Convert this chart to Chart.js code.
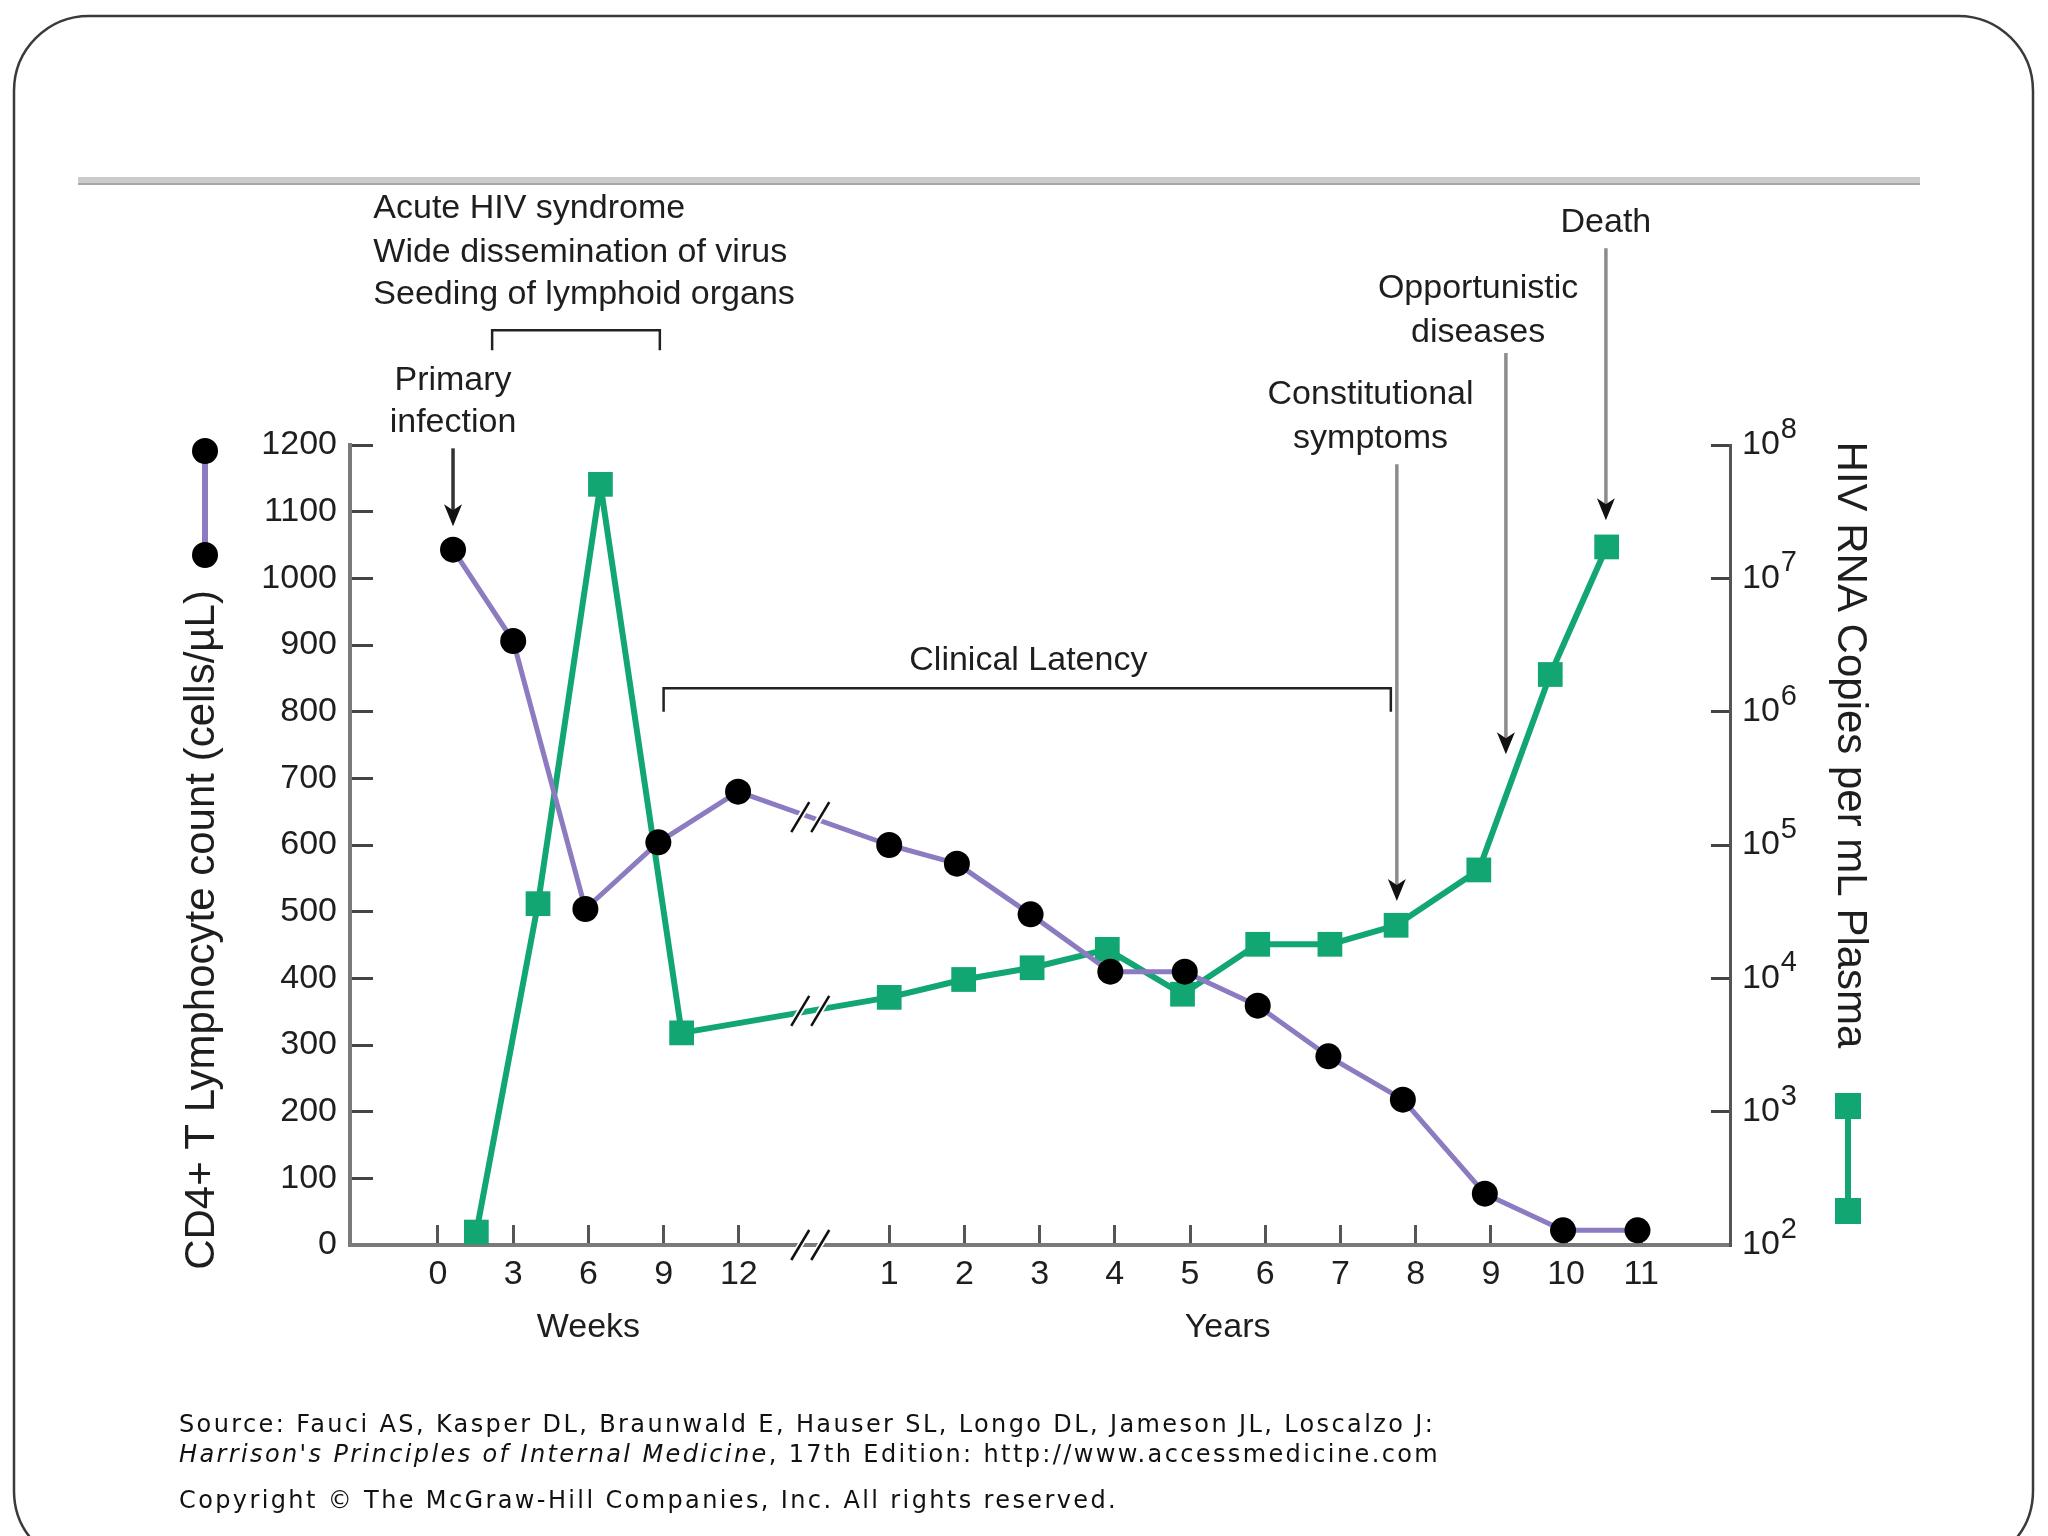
<!DOCTYPE html>
<html>
<head>
<meta charset="utf-8">
<title>Typical course of HIV infection</title>
<script src="https://cdn.jsdelivr.net/npm/chart.js@4.4.1/dist/chart.umd.min.js"></script>
<style>
  html, body { margin: 0; padding: 0; background: #fff; }
</style>
</head>
<body>
<canvas id="chart" width="2048" height="1536"></canvas>
<script>
// x axis works in "slots": weeks 0..12 sit on slots 0-4, the break is at slot 5,
// years 1..11 sit on slots 6-16
const weekTicks = [0, 3, 6, 9, 12];
const yearTicks = [1, 2, 3, 4, 5, 6, 7, 8, 9, 10, 11];
const breakSlot = 4.95;

// CD4+ T lymphocyte count (cells/uL)
const cd4Slots  = [0.2, 1.0, 1.96, 2.93, 3.99, 6.0, 6.9, 7.88, 8.94, 9.93, 10.9, 11.84, 12.83, 13.92, 14.96, 15.95];
const cd4Counts = [1043, 906, 504, 604, 680, 600, 572, 496, 410, 410, 359, 283, 218, 77, 22, 22];

// HIV RNA copies per mL plasma
const rnaSlots  = [0.51, 1.33, 2.16, 3.24, 6.0, 6.99, 7.9, 8.9, 9.9, 10.9, 11.86, 12.74, 13.84, 14.79, 15.54];
const rnaCopies = [125, 36300, 50700000, 3900, 7200, 9800, 12000, 16500, 7600, 18000, 18000, 25000, 65000, 1900000, 17200000];

const cd4Ticks = [0, 100, 200, 300, 400, 500, 600, 700, 800, 900, 1000, 1100, 1200];
const rnaExponents = [2, 3, 4, 5, 6, 7, 8];

const xTickSlots = weekTicks.map(w => w / 3).concat(yearTicks.map(y => y + 5));
const xTickLabels = weekTicks.concat(yearTicks).map(String);

const purple = '#8c7bc0';
const green = '#12a672';
const ink = '#1e1e1e';
const sans = "'Liberation Sans', Arial, sans-serif";

// annotation layout, in axis units (slot, cells/uL)
const notes = [
  { slot: -0.86, align: 'left',   lines: [['Acute HIV syndrome', 1554], ['Wide dissemination of virus', 1489], ['Seeding of lymphoid organs', 1425]] },
  { slot: 0.2,   align: 'center', lines: [['Primary', 1297], ['infection', 1233]] },
  { slot: 7.85,  align: 'center', lines: [['Clinical Latency', 876]] },
  { slot: 12.4,  align: 'center', lines: [['Constitutional', 1276], ['symptoms', 1209]] },
  { slot: 13.83, align: 'center', lines: [['Opportunistic', 1434], ['diseases', 1369]] },
  { slot: 15.53, align: 'center', lines: [['Death', 1533]] }
];
const brackets = [
  { from: 0.72, to: 2.95, top: 1372, leg: 1342 },
  { from: 3.0, to: 12.67, top: 835, leg: 800 }
];
const arrows = [
  { slot: 0.2,   from: 1195, to: 1078, color: '#333' },
  { slot: 12.75, from: 1171, to: 516,  color: '#8c8c8c' },
  { slot: 14.2,  from: 1338, to: 736,  color: '#8c8c8c' },
  { slot: 15.53, from: 1495, to: 1087, color: '#8c8c8c' }
];

function slashPair(ctx, cx, cy, halo) {
  [-10, 10].forEach(off => {
    const x0 = cx + off - 9, y0 = cy + 15, x1 = cx + off + 9, y1 = cy - 15;
    if (halo) {
      ctx.strokeStyle = '#fff'; ctx.lineWidth = 6;
      ctx.beginPath(); ctx.moveTo(x0, y0); ctx.lineTo(x1, y1); ctx.stroke();
    }
    ctx.strokeStyle = '#111'; ctx.lineWidth = 2.5;
    ctx.beginPath(); ctx.moveTo(x0, y0); ctx.lineTo(x1, y1); ctx.stroke();
  });
}

function arrow(ctx, x, y0, y1, color) {
  ctx.strokeStyle = color; ctx.lineWidth = 3.5;
  ctx.beginPath(); ctx.moveTo(x, y0); ctx.lineTo(x, y1 - 14); ctx.stroke();
  ctx.fillStyle = '#111';
  ctx.beginPath();
  ctx.moveTo(x, y1);
  ctx.lineTo(x - 9, y1 - 22);
  ctx.lineTo(x, y1 - 16);
  ctx.lineTo(x + 9, y1 - 22);
  ctx.closePath(); ctx.fill();
}

const decor = {
  id: 'decor',
  beforeDraw(chart) {
    const ctx = chart.ctx;
    ctx.save();
    ctx.fillStyle = '#fff';
    ctx.fillRect(0, 0, chart.width, chart.height);
    // slide frame
    ctx.strokeStyle = '#3a3a3a'; ctx.lineWidth = 2.5;
    ctx.beginPath(); ctx.roundRect(14, 16, 2019, 1550, 75); ctx.stroke();
    // header rule
    ctx.fillStyle = '#cbcbcb'; ctx.fillRect(78, 177, 1842, 7);
    ctx.fillStyle = '#a8a8a8'; ctx.fillRect(78, 183, 1842, 2);
    ctx.restore();
  },
  afterDatasetsDraw(chart) {
    const { ctx, scales: { x } } = chart;
    const bx = x.getPixelForValue(breakSlot);
    ctx.save();
    chart.data.datasets.forEach((ds, i) => {
      const pts = chart.getDatasetMeta(i).data;
      for (let k = 1; k < pts.length; k++) {
        const a = pts[k - 1], b = pts[k];
        if (a.x < bx && b.x >= bx) {
          const t = (bx - a.x) / (b.x - a.x);
          slashPair(ctx, bx, a.y + t * (b.y - a.y), true);
        }
      }
    });
    ctx.restore();
  },
  afterDraw(chart) {
    const { ctx, scales: { x, y, y2 } } = chart;
    const px = v => x.getPixelForValue(v);
    const py = v => y.getPixelForValue(v);
    ctx.save();

    // axis break
    slashPair(ctx, px(breakSlot), py(0), true);

    // exponents on the right axis
    ctx.font = '34px ' + sans;
    const baseW = ctx.measureText('10').width;
    ctx.font = '29px ' + sans;
    ctx.fillStyle = ink; ctx.textAlign = 'left'; ctx.textBaseline = 'middle';
    rnaExponents.forEach(e => {
      ctx.fillText(String(e), y2.left + 12 + baseW + 1, y2.getPixelForValue(Math.pow(10, e)) - 15);
    });

    // brackets
    ctx.strokeStyle = '#222'; ctx.lineWidth = 2.5;
    brackets.forEach(b => {
      ctx.beginPath();
      ctx.moveTo(px(b.from), py(b.leg));
      ctx.lineTo(px(b.from), py(b.top));
      ctx.lineTo(px(b.to), py(b.top));
      ctx.lineTo(px(b.to), py(b.leg));
      ctx.stroke();
    });

    // arrows
    arrows.forEach(a => arrow(ctx, px(a.slot), py(a.from), py(a.to), a.color));

    // notes
    ctx.font = '34px ' + sans;
    ctx.fillStyle = ink; ctx.textBaseline = 'middle';
    notes.forEach(n => {
      ctx.textAlign = n.align;
      n.lines.forEach(([txt, v]) => ctx.fillText(txt, px(n.slot), py(v)));
    });

    // Weeks / Years
    ctx.font = '34px ' + sans; ctx.textAlign = 'center';
    ctx.fillText('Weeks', px(2), py(-124));
    ctx.fillText('Years', px(10.5), py(-124));

    // axis titles
    ctx.font = '42px ' + sans;
    ctx.save();
    ctx.translate(202, 930); ctx.rotate(-Math.PI / 2);
    ctx.fillText('CD4+ T Lymphocyte count (cells/\u00b5L)', 0, 0);
    ctx.restore();
    ctx.save();
    ctx.translate(1850, 745); ctx.rotate(Math.PI / 2);
    ctx.fillText('HIV RNA Copies per mL Plasma', 0, 0);
    ctx.restore();

    // series keys
    const cd4Key = [[205, 451], [205, 555]];
    const rnaKey = [[1848, 1106], [1848, 1211]];
    ctx.strokeStyle = purple; ctx.lineWidth = 6;
    ctx.beginPath(); ctx.moveTo(cd4Key[0][0], cd4Key[0][1]); ctx.lineTo(cd4Key[1][0], cd4Key[1][1]); ctx.stroke();
    ctx.fillStyle = '#000';
    cd4Key.forEach(([kx, ky]) => { ctx.beginPath(); ctx.arc(kx, ky, 13, 0, Math.PI * 2); ctx.fill(); });
    ctx.strokeStyle = green; ctx.lineWidth = 6;
    ctx.beginPath(); ctx.moveTo(rnaKey[0][0], rnaKey[0][1]); ctx.lineTo(rnaKey[1][0], rnaKey[1][1]); ctx.stroke();
    ctx.fillStyle = green;
    rnaKey.forEach(([kx, ky]) => ctx.fillRect(kx - 13, ky - 13, 26, 26));

    // source
    const src1 = 'Source: Fauci AS, Kasper DL, Braunwald E, Hauser SL, Longo DL, Jameson JL, Loscalzo J:';
    ctx.font = "24px 'DejaVu Sans', sans-serif";
    ctx.textAlign = 'left'; ctx.fillStyle = '#111';
    const sp = (1254 - ctx.measureText(src1).width) / (src1.length - 1);
    ctx.letterSpacing = sp.toFixed(2) + 'px';
    ctx.fillText(src1, 179, 1426);
    ctx.font = "italic 24px 'DejaVu Sans', sans-serif";
    const it = "Harrison's Principles of Internal Medicine";
    ctx.fillText(it, 179, 1456);
    const itW = ctx.measureText(it).width;
    ctx.font = "24px 'DejaVu Sans', sans-serif";
    ctx.fillText(', 17th Edition: http://www.accessmedicine.com', 179 + itW, 1456);
    ctx.fillText('Copyright \u00a9 The McGraw-Hill Companies, Inc. All rights reserved.', 179, 1502);

    ctx.restore();
  }
};

const tickFont = { family: sans, size: 34 };

new Chart(document.getElementById('chart'), {
  type: 'line',
  data: {
    datasets: [
      {
        label: 'CD4+ T Lymphocyte count',
        data: cd4Slots.map((s, i) => ({ x: s, y: cd4Counts[i] })),
        yAxisID: 'y',
        borderColor: purple, borderWidth: 5, borderJoinStyle: 'round',
        pointStyle: 'circle', pointRadius: 13,
        pointBackgroundColor: '#000', pointBorderWidth: 0,
        tension: 0, clip: false
      },
      {
        label: 'HIV RNA copies per mL plasma',
        data: rnaSlots.map((s, i) => ({ x: s, y: rnaCopies[i] })),
        yAxisID: 'y2',
        borderColor: green, borderWidth: 6, borderJoinStyle: 'round',
        pointStyle: 'rect', pointRadius: 17.5,
        pointBackgroundColor: green, pointBorderWidth: 0,
        tension: 0, clip: false
      }
    ]
  },
  options: {
    responsive: false,
    animation: false,
    events: [],
    layout: { padding: { left: 150, right: 118, top: 445, bottom: 141 } },
    plugins: { legend: { display: false }, tooltip: { enabled: false } },
    scales: {
      x: {
        type: 'linear', position: 'bottom', min: -1.17, max: 17.18,
        afterBuildTicks: s => { s.ticks = xTickSlots.map(v => ({ value: v })); },
        afterFit: s => { s.height = 150; },
        ticks: { callback: (v, i) => xTickLabels[i], font: tickFont, color: ink, padding: 29, autoSkip: false, maxRotation: 0 },
        grid: { drawOnChartArea: false, tickLength: -20, color: '#555', lineWidth: 3 },
        border: { color: '#7a7a7a', width: 4 }
      },
      y: {
        type: 'linear', position: 'left', min: 0, max: 1200,
        afterBuildTicks: s => { s.ticks = cd4Ticks.map(v => ({ value: v })); },
        afterFit: s => { s.width = 200; },
        ticks: { callback: v => String(v), font: tickFont, color: ink, padding: 36 },
        grid: { drawOnChartArea: false, tickLength: -23, color: '#444', lineWidth: 3 },
        border: { color: '#7a7a7a', width: 4 }
      },
      y2: {
        type: 'logarithmic', position: 'right', min: 100, max: 1e8,
        afterBuildTicks: s => { s.ticks = rnaExponents.map(e => ({ value: Math.pow(10, e) })); },
        afterFit: s => { s.width = 200; },
        ticks: { callback: () => '10', font: tickFont, color: ink, padding: 31 },
        grid: { drawOnChartArea: false, tickLength: -19, color: '#444', lineWidth: 3 },
        border: { color: '#555', width: 3 }
      }
    }
  },
  plugins: [decor]
});
</script>
</body>
</html>
